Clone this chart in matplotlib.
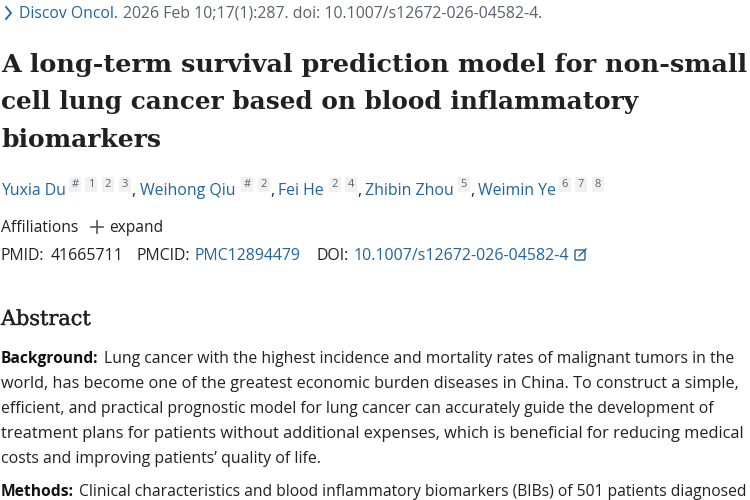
import matplotlib
matplotlib.use("Agg")
import matplotlib.pyplot as plt
import matplotlib.patheffects as pe
from matplotlib.patches import Rectangle, FancyBboxPatch

# page text
journal = "Discov Oncol."
citation = "2026 Feb 10;17(1):287. doi: 10.1007/s12672-026-04582-4."
title_lines = ["A long-term survival prediction model for non-small",
               "cell lung cancer based on blood inflammatory",
               "biomarkers"]
authors = ["Yuxia Du", "Weihong Qiu", "Fei He", "Zhibin Zhou", "Weimin Ye"]
author_refs = [["#", "1", "2", "3"], ["#", "2"], ["2", "4"], ["5"], ["6", "7", "8"]]
abstract_lines = ["Lung cancer with the highest incidence and mortality rates of malignant tumors in the",
                  "world, has become one of the greatest economic burden diseases in China. To construct a simple,",
                  "efficient, and practical prognostic model for lung cancer can accurately guide the development of",
                  "treatment plans for patients without additional expenses, which is beneficial for reducing medical",
                  "costs and improving patients\u2019 quality of life."]
methods_line = "Clinical characteristics and blood inflammatory biomarkers (BIBs) of 501 patients diagnosed"

BLUE = "#20659c"
DARK = "#212121"
GREY = "#5b616b"
SANS = "Open Sans"
SERIF = "DejaVu Serif"

fig = plt.figure(figsize=(7.5, 5), dpi=100)
ax = fig.add_axes([0, 0, 1, 1])
ax.set_xlim(0, 750)
ax.set_ylim(500, 0)
ax.axis("off")
renderer = fig.canvas.get_renderer()


def put(x, y, s, x1=None, size=11.4, color=DARK, family=SANS, weight="normal"):
    # y is the baseline, x1 the right edge the text should reach
    t = ax.text(x, y, s, fontsize=size, color=color, family=family, weight=weight,
                va="baseline", ha="left")
    if x1 is not None:
        w = t.get_window_extent(renderer).width
        t.set_fontsize(size * (x1 - x) / w)
    return t


# journal line
ax.plot([6, 11, 6], [7, 13, 19], color=BLUE, lw=1.3)
put(19, 18, journal, x1=118, color=BLUE)
put(123, 18, citation, x1=545, color=GREY)

# title
title_right = [747, 638, 161]
for line, y, x1 in zip(title_lines, [72, 109, 147], title_right):
    put(1, y, line, x1=x1, family=SERIF, weight="bold", size=20)

# authors with reference chips
author_x = [1, 140, 278, 365, 478]
chip_x = [[75, 91, 108, 125], [247, 264], [335, 351], [464], [565, 581, 598]]
for name, x0, refs, chips in zip(authors, author_x, author_refs, chip_x):
    put(x0, 195, name, color=BLUE)
    for r, cx in zip(refs, chips):
        ax.add_patch(Rectangle((cx - 6, 177), 12, 15, color="#f1f1f1", lw=0))
        ax.text(cx, 184.5, r, fontsize=8, color=GREY, family=SANS, ha="center", va="center")
for cx in [131, 270, 357, 470]:
    put(cx, 195, ",")

# affiliations
put(1, 232, "Affiliations", x1=78)
ax.plot([91, 103], [227, 227], color="#555555", lw=1.2)
ax.plot([97, 97], [221, 233], color="#555555", lw=1.2)
put(109, 232, "expand", x1=163)

# ids
put(1, 260, "PMID:")
put(51, 260, "41665711")
put(136, 260, "PMCID:")
put(195, 260, "PMC12894479", color=BLUE)
put(317, 260, "DOI:")
put(354, 260, "10.1007/s12672-026-04582-4", x1=570, color=BLUE)
ax.add_patch(FancyBboxPatch((575, 250), 10, 10, boxstyle="round,pad=0,rounding_size=1",
                            fc="none", ec=BLUE, lw=1.0))
ax.plot([579, 586], [256, 249], color=BLUE, lw=1.0)

# abstract
head = put(1, 325, "Abstract", x1=91, family=SERIF, size=16)
head.set_path_effects([pe.withStroke(linewidth=0.25, foreground=DARK)])
put(1, 363, "Background:", x1=99, weight="bold", color="#111111")
put(104, 363, abstract_lines[0], x1=734)
line_right = [743, 716, 744, 321]
for line, y, x1 in zip(abstract_lines[1:], [388, 413, 438, 463], line_right):
    put(1, y, line, x1=x1)
put(1, 496, "Methods:", x1=74, weight="bold", color="#111111")
put(79, 496, methods_line, x1=746)

fig.savefig("out.png", dpi=100)
